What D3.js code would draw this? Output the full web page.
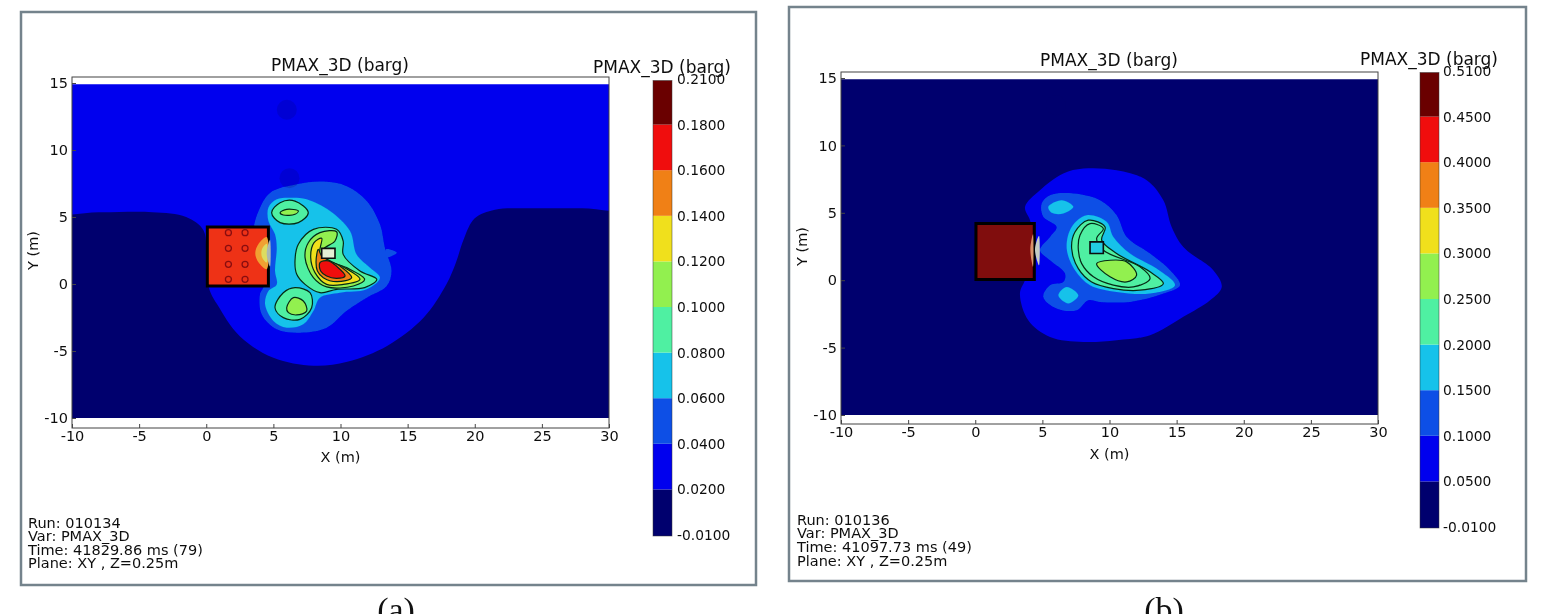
<!DOCTYPE html>
<html>
<head>
<meta charset="utf-8">
<script src="https://cdn.jsdelivr.net/npm/d3@7"></script>
<style>
html, body { margin: 0; padding: 0; background: #fff; overflow: hidden; }
svg { display: block; }
text { font-family: "DejaVu Sans", sans-serif; fill: #111; }
</style>
</head>
<body>
<svg id="chart" width="1562" height="614"></svg>
<script>
// ticks and colour bands, both panels share them
var xTicks = [-10, -5, 0, 5, 10, 15, 20, 25, 30];
var yTicks = [-10, -5, 0, 5, 10, 15];
var bandColors = ["#00006e", "#0000ee", "#0a50e6", "#12c2ea", "#4ff0a2", "#92f050", "#f0e01e", "#f08012", "#f01010", "#6a0000"];
var barLabelsA = ["-0.0100", "0.0200", "0.0400", "0.0600", "0.0800", "0.1000", "0.1200", "0.1400", "0.1600", "0.1800", "0.2100"];
var barLabelsB = ["-0.0100", "0.0500", "0.1000", "0.1500", "0.2000", "0.2500", "0.3000", "0.3500", "0.4000", "0.4500", "0.5100"];
var infoA = ["Run: 010134", "Var: PMAX_3D", "Time: 41829.86 ms (79)", "Plane: XY , Z=0.25m"];
var infoB = ["Run: 010136", "Var: PMAX_3D", "Time: 41097.73 ms (49)", "Plane: XY , Z=0.25m"];

// pressure contours in metres, panel a
var a1Blue = [[32,8],[32,5.65],[28,5.65],[24,5.65],[21.5,5.55],[20,4.9],[19.2,3.4],[18.6,1.6],[17.9,0],[16.2,-2.5],[13.5,-4.6],[10.5,-5.8],[8,-6.1],[5,-5.5],[2.5,-3.9],[0.8,-1.5],[0.2,-0.3],[0,2],[-0.2,4],[-1.5,5],[-4,5.35],[-8,5.35],[-12,5.4],[-12,8],[-12,17],[32,17]];
var a2Outer = [[3.9,5.45],[4.75,6.8],[6.74,7.44],[8.72,7.64],[10.46,7.3],[11.95,6.2],[12.94,4.45],[13.3,2.7],[13.8,0.97],[13.44,-0.15],[11.95,-1.02],[10.46,-2],[8.97,-3.26],[6.98,-3.63],[5.25,-3.38],[4.13,-2.26],[4,-0.77],[4.25,-0.15],[3.5,1],[3.5,4]];
var a2Tip = [[13.4,2.6],[14.2,2.34],[13.4,2]];
var a3Cyan = [[4.63,5.7],[5.25,6.32],[6.49,6.44],[7.48,6.32],[9.22,5.45],[10.71,3.96],[11.2,2.21],[12.2,1.22],[12.94,0.47],[11.95,-0.4],[9.96,-0.65],[8.47,-1.02],[7.98,-2.02],[7.23,-3.01],[5.99,-3.26],[5,-2.76],[4.38,-1.52],[4.63,-0.52],[5.25,-0.03],[5.12,0.97],[5.25,2.71],[5.12,3.71],[4.63,4.7]];
var a4Top = [[4.87,5.32],[5.5,6.07],[6.61,6.19],[7.6,5.32],[6.86,4.58],[5.5,4.58]];
var a4Main = [[6.61,1.72],[6.86,2.96],[7.98,4.08],[9.71,4.08],[10.2,3.2],[10.2,2.21],[11.45,0.97],[12.7,0.35],[11.8,-0.27],[9.71,-0.4],[8.47,-0.65],[7.36,-0.03],[6.74,0.72]];
var a4Low = [[5.12,-1.77],[5.74,-0.65],[6.61,-0.27],[7.73,-0.65],[7.85,-1.77],[6.98,-2.64],[5.74,-2.51]];
var a5Main = [[7.36,1.97],[7.6,3.08],[8.47,3.83],[9.71,3.9],[9.59,3.21],[8.72,2.59],[8.72,1.96],[10.46,1.22],[11.8,0.35],[10.96,-0.15],[8.97,-0.22],[7.98,0.47]];
var a5Top = [[5.5,5.32],[5.99,5.57],[6.86,5.45],[6.61,5.2],[5.74,5.15]];
var a5Low = [[5.99,-1.77],[6.49,-1.02],[7.23,-1.27],[7.48,-2.02],[6.74,-2.31],[6.12,-2.14]];
var a6Main = [[7.78,1.97],[8.03,3.08],[8.6,3.41],[8.47,2.09],[10.2,1.27],[11.45,0.35],[10.2,-0.03],[8.97,-0.03],[8.1,0.85]];
var a7Main = [[8.18,1.72],[8.35,2.59],[8.6,2.09],[9.96,1.34],[10.83,0.47],[9.72,0.17],[8.72,0.47],[8.28,0.97]];
var a8Main = [[8.47,1.59],[9.1,1.72],[9.96,1.09],[10.34,0.6],[9.72,0.42],[8.97,0.6],[8.52,0.97]];

// pressure contours in metres, panel b
var b1Blue = [[6.56,7.91],[8.05,8.28],[10.53,8.16],[12.77,7.42],[14.01,5.93],[14.63,3.95],[15.5,2.47],[17.73,0.74],[18.36,-0.5],[17.49,-1.49],[15.5,-2.72],[13.02,-4.08],[10.53,-4.45],[8.05,-4.58],[5.57,-4.21],[3.95,-2.97],[3.33,-0.99],[3.71,0],[4.33,1.48],[4.33,3.21],[4.08,4.45],[3.71,5.44],[4.82,6.67]];
var b2Outer = [[4.95,5.69],[5.57,6.3],[7.31,6.43],[9.29,5.93],[10.53,4.82],[11.28,3.21],[13.02,1.98],[14.51,0.74],[15.25,-0.37],[14.01,-0.99],[11.53,-1.61],[9.29,-1.61],[8.42,-1.49],[7.55,-2.23],[6.06,-2.1],[5.07,-1.24],[5.57,-0.37],[6.56,-0.13],[6.69,0.49],[5.57,1.48],[4.82,2.22],[5.57,3.21],[6.06,3.95],[5.07,4.7]];
var b3Main = [[6.81,2.35],[7.18,3.95],[8.3,4.82],[9.79,4.33],[10.29,3.21],[11.53,1.98],[13.51,0.86],[14.88,-0.37],[13.02,-0.99],[10.53,-0.87],[8.55,-0.37],[7.43,0.74]];
var b3Top = [[5.44,5.44],[6.44,5.93],[7.31,5.44],[6.56,4.94],[5.69,5]];
var b3Low = [[6.19,-1.12],[6.81,-0.5],[7.68,-1.12],[6.93,-1.73]];
var b4Main = [[7.18,2.35],[7.43,3.58],[8.42,4.45],[9.67,3.95],[9.42,2.96],[10.53,1.98],[13.02,0.62],[14.01,-0.25],[12.27,-0.74],[10.29,-0.62],[8.67,-0.13],[7.68,0.86]];
var b4Inner = [[7.68,2.22],[7.8,3.34],[8.55,4.2],[9.54,3.83],[9.04,3.09],[9.54,2.22],[12.27,0.99],[13.02,0.12],[11.78,-0.5],[10.29,-0.37],[8.8,0.25],[7.93,1.23]];
var b5Center = [[9.04,1.23],[10.04,1.48],[11.28,1.36],[12.02,0.37],[11.28,-0.13],[10.04,0.25]];

// building and its opening
var buildingA = [[0.08,-0.15],[4.63,-0.15],[4.63,4.25],[0.08,4.25]];
var vents = [[1.65,3.83],[2.89,3.83],[1.65,2.66],[2.89,2.66],[1.65,1.47],[2.89,1.47],[1.65,0.35],[2.89,0.35]];
var crescentOuter = [[4.5,3.5],[3.9,3],[3.65,2.3],[3.9,1.6],[4.5,1.1]];
var crescentInner = [[4.5,3],[4.2,2.7],[4.1,2.3],[4.2,1.9],[4.5,1.6]];
var sliverA = [[4.75,3.3],[4.5,2.3],[4.75,1.3]];
var buildingB = [[0.05,0.05],[4.4,0.05],[4.4,4.2],[0.05,4.2]];
var sliverB = [[4.3,3.4],[4.1,2.3],[4.3,1]];
var sliverB2 = [[4.75,3.3],[4.45,2.3],[4.75,1.1]];
var boxA = [[8.6,1.92],[9.59,1.92],[9.59,2.66],[8.6,2.66]];
var boxB = [[8.55,1.98],[9.54,1.98],[9.54,2.84],[8.55,2.84]];

var panels = [
  {
    id: "a", clipTop: 14.9,
    frame: [21, 12, 735, 573], plot: [72, 77, 609, 428], y15: 83, yM10: 418,
    title: [340, 71], barTitle: [662, 73], axisX: 458, axisY: 33, infoX: 28, infoY: [528, 541, 555, 568],
    bar: [653, 672], barRange: [535, 79], labels: barLabelsA, info: infoA, caption: [396, 621], caption_text: "(a)",
    base: 0,
    contours: [
      {level: 1, pts: a1Blue}, {level: 2, pts: a2Outer}, {level: 2, pts: a2Tip}, {level: 3, pts: a3Cyan},
      {level: 4, pts: a4Top, line: true}, {level: 4, pts: a4Main, line: true}, {level: 4, pts: a4Low, line: true},
      {level: 5, pts: a5Main, line: true}, {level: 5, pts: a5Top, line: true}, {level: 5, pts: a5Low, line: true},
      {level: 6, pts: a6Main, line: true}, {level: 7, pts: a7Main, line: true}, {level: 8, pts: a8Main, line: true}
    ],
    building: buildingA, buildingFill: "#ee3018", vents: vents,
    opening: [[crescentOuter, "#f0a030"], [crescentInner, "#dcdc60"], [sliverA, "#a8b8b4"]],
    box: boxA, boxFill: "#e6f0d4", ghosts: [[6, 13], [6.2, 7.9]]
  },
  {
    id: "b", clipTop: 14.9,
    frame: [789, 7, 737, 574], plot: [841, 72, 1378, 424], y15: 78, yM10: 415,
    title: [1109, 66], barTitle: [1429, 65], axisX: 455, axisY: 802, infoX: 797, infoY: [525, 538, 552, 566],
    bar: [1420, 1439], barRange: [527, 71], labels: barLabelsB, info: infoB, caption: [1164, 621], caption_text: "(b)",
    base: 0,
    contours: [
      {level: 1, pts: b1Blue}, {level: 2, pts: b2Outer}, {level: 3, pts: b3Main}, {level: 3, pts: b3Top}, {level: 3, pts: b3Low},
      {level: 4, pts: b4Main, line: true}, {level: 4, pts: b4Inner, line: true}, {level: 5, pts: b5Center, line: true}
    ],
    building: buildingB, buildingFill: "#80080a", vents: [],
    opening: [[sliverB, "#d89068"], [sliverB2, "#c4ccc4"]],
    box: boxB, boxFill: "#22cce2", ghosts: [[6, 13], [5.6, 8.2]]
  }
];

var svg = d3.select("#chart");
var defs = svg.append("defs");
// the source is a soft photo of a screen
defs.append("filter").attr("id", "soft").append("feGaussianBlur").attr("stdDeviation", 0.6);
defs.append("filter").attr("id", "softText").append("feGaussianBlur").attr("stdDeviation", 0.3);

function drawPanel(p) {
  var x = d3.scaleLinear().domain([-10, 30]).range([p.plot[0], p.plot[2]]);
  var y = d3.scaleLinear().domain([-10, 15]).range([p.yM10, p.y15]);
  var g = svg.append("g").attr("id", "panel-" + p.id);

  g.append("rect")
    .attr("x", p.frame[0]).attr("y", p.frame[1])
    .attr("width", p.frame[2]).attr("height", p.frame[3])
    .attr("fill", "#fff").attr("stroke", "#74838c").attr("stroke-width", 2.5);

  var clipId = "clip-" + p.id;
  defs.append("clipPath").attr("id", clipId).append("rect")
    .attr("x", x(-10)).attr("y", y(p.clipTop))
    .attr("width", x(30) - x(-10)).attr("height", y(-10) - y(p.clipTop));

  var closed = d3.line().x(function (d) { return x(d[0]); }).y(function (d) { return y(d[1]); })
    .curve(d3.curveCatmullRomClosed.alpha(0.5));
  var straight = d3.line().x(function (d) { return x(d[0]); }).y(function (d) { return y(d[1]); })
    .curve(d3.curveLinearClosed);

  var field = g.append("g").attr("clip-path", "url(#" + clipId + ")");
  var soft = field.append("g").attr("filter", "url(#soft)");

  soft.append("rect")
    .attr("x", x(-10) - 5).attr("y", y(p.clipTop) - 5)
    .attr("width", x(30) - x(-10) + 10).attr("height", y(-10) - y(p.clipTop) + 10)
    .attr("fill", bandColors[p.base]);

  soft.selectAll("path.level")
    .data(p.contours)
    .join("path")
    .attr("class", "level")
    .attr("d", function (d) { return closed(d.pts); })
    .attr("fill", function (d) { return bandColors[d.level]; })
    .attr("stroke", function (d) { return d.line ? "#062a14" : "none"; })
    .attr("stroke-width", 1.2);

  soft.selectAll("circle.ghost")
    .data(p.ghosts)
    .join("circle")
    .attr("class", "ghost")
    .attr("cx", function (d) { return x(d[0]); })
    .attr("cy", function (d) { return y(d[1]); })
    .attr("r", 10)
    .attr("fill", "#00006e")
    .attr("opacity", 0.2);

  // building sits on top of the contours
  soft.append("path")
    .attr("d", straight(p.building))
    .attr("fill", p.buildingFill)
    .attr("stroke", "#050202").attr("stroke-width", 3);

  soft.selectAll("circle.vent")
    .data(p.vents)
    .join("circle")
    .attr("class", "vent")
    .attr("cx", function (d) { return x(d[0]); })
    .attr("cy", function (d) { return y(d[1]); })
    .attr("r", 3)
    .attr("fill", "none")
    .attr("stroke", "#8a1010").attr("stroke-width", 1.3);

  p.opening.forEach(function (o) {
    soft.append("path").attr("d", closed(o[0])).attr("fill", o[1]);
  });

  soft.append("path")
    .attr("d", straight(p.box))
    .attr("fill", p.boxFill)
    .attr("stroke", "#0a0a0a").attr("stroke-width", 1.6);

  // axes
  var axes = g.append("g").attr("filter", "url(#softText)");
  axes.append("rect")
    .attr("x", p.plot[0]).attr("y", p.plot[1])
    .attr("width", p.plot[2] - p.plot[0]).attr("height", p.plot[3] - p.plot[1])
    .attr("fill", "none").attr("stroke", "#444").attr("stroke-width", 1);

  var xAxis = axes.append("g")
    .attr("transform", "translate(0," + p.plot[3] + ")")
    .call(d3.axisBottom(x).tickValues(xTicks).tickFormat(String).tickSize(-4).tickPadding(3));
  var yAxis = axes.append("g")
    .attr("transform", "translate(" + p.plot[0] + ",0)")
    .call(d3.axisLeft(y).tickValues(yTicks).tickFormat(String).tickSize(-4).tickPadding(4));
  [xAxis, yAxis].forEach(function (a) {
    a.select(".domain").remove();
    a.selectAll("text").style("font-size", "14.5px").style("font-family", "DejaVu Sans").style("fill", "#111");
    a.selectAll("line").attr("stroke", "#444");
  });

  function label(sel, xp, yp, str, size, anchor) {
    return sel.append("text").attr("x", xp).attr("y", yp)
      .attr("text-anchor", anchor || "middle").style("font-size", size + "px").text(str);
  }

  label(axes, p.title[0], p.title[1], "PMAX_3D (barg)", 17);
  label(axes, (p.plot[0] + p.plot[2]) / 2, p.axisX + 4, "X (m)", 14.5);
  axes.append("text")
    .attr("transform", "translate(" + (p.axisY + 5) + "," + ((y(5) + y(0)) / 2) + ") rotate(-90)")
    .attr("text-anchor", "middle").style("font-size", "14.5px").text("Y (m)");

  // colour bar
  var barY = d3.scalePoint().domain(p.labels).range(p.barRange);
  axes.selectAll("rect.band")
    .data(bandColors)
    .join("rect")
    .attr("class", "band")
    .attr("x", p.bar[0]).attr("width", p.bar[1] - p.bar[0])
    .attr("y", function (d, i) { return barY(p.labels[i + 1]) + (i === 9 ? 1.5 : 0); })
    .attr("height", function (d, i) { return barY(p.labels[i]) - barY(p.labels[i + 1]) - (i === 9 ? 1.5 : 0) + (i === 0 ? 1 : 0); })
    .attr("fill", function (d) { return d; });
  axes.append("rect")
    .attr("x", p.bar[0]).attr("width", p.bar[1] - p.bar[0])
    .attr("y", p.barRange[1] + 1.5).attr("height", p.barRange[0] - p.barRange[1] - 0.5)
    .attr("fill", "none").attr("stroke", "#333").attr("stroke-opacity", 0.6).attr("stroke-width", 0.8);

  axes.selectAll("text.barLabel")
    .data(p.labels)
    .join("text")
    .attr("class", "barLabel")
    .attr("x", p.bar[1] + (p.id === "a" ? 5 : 4))
    .attr("y", function (d) { return barY(d) + 5; })
    .style("font-size", "13.8px")
    .text(function (d) { return d; });

  label(axes, p.barTitle[0], p.barTitle[1], "PMAX_3D (barg)", 17);

  axes.selectAll("text.info")
    .data(p.info)
    .join("text")
    .attr("class", "info")
    .attr("x", p.infoX)
    .attr("y", function (d, i) { return p.infoY[i]; })
    .style("font-size", "14.5px")
    .text(function (d) { return d; });

  g.append("text")
    .attr("x", p.caption[0]).attr("y", p.caption[1])
    .attr("text-anchor", "middle")
    .style("font-family", "Liberation Serif")
    .style("font-size", "34px")
    .style("fill", "#111")
    .text(p.caption_text);
}

panels.forEach(drawPanel);
</script>
</body>
</html>
